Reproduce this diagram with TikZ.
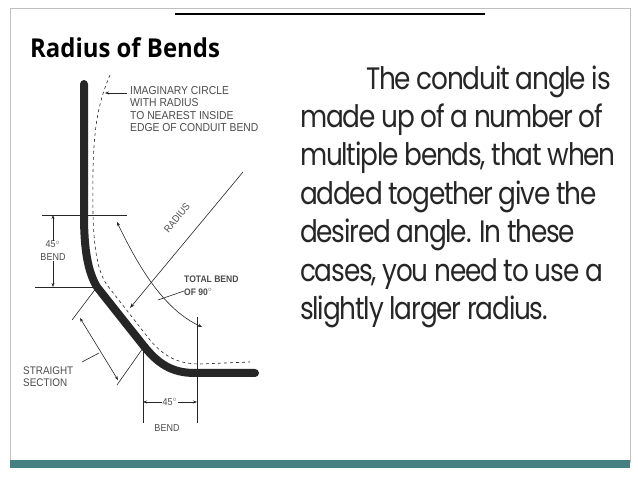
\documentclass[tikz,border=0pt]{standalone}
\usepackage{fontspec}
\setmainfont{Poppins}[FakeStretch=0.85]
\newfontfamily\diafont{Liberation Sans}[FakeStretch=0.9]
\newfontfamily\titlefont{Open Sans}[FakeStretch=0.92]
\usetikzlibrary{arrows.meta}
\begin{document}
\begin{tikzpicture}[x=1pt,y=-1pt,
  conduit/.style={line width=8pt,line cap=round,black!85},
  thin/.style={line width=0.6pt,black!85},
  dim/.style={thin,{Stealth[length=4pt,width=3pt]}-{Stealth[length=4pt,width=3pt]}},
  lbl/.style={font=\diafont\fontsize{11}{12}\selectfont,text=black!70,inner sep=0pt,align=left},
  body/.style={font=\fontsize{31}{33}\selectfont\addfontfeatures{LetterSpace=-4},anchor=base west,inner sep=0pt,text=black!85}]
\useasboundingbox (0,0) rectangle (638,478);
\fill[white] (0,0) rectangle (638,478);
\draw[black!25,line width=0.8pt] (10,8) rectangle (630,462);
\fill[teal!45!gray] (10,460) rectangle (630,468);
\draw[line width=2pt] (175,14) -- (485,14);
\node[font=\titlefont\bfseries\fontsize{26}{28}\selectfont,anchor=base west,inner sep=0pt] (title) at (30,58) {Radius of Bends};
% body text
\node[body] (t1) at (366,90) {The conduit angle is};
\node[body] (t2) at (300,128) {made up of a number of};
\node[body] (t3) at (300,166) {multiple bends, that when};
\node[body] (t4) at (300,205) {added together give the};
\node[body] (t5) at (300,243) {desired angle. In these};
\node[body] (t6) at (300,282) {cases, you need to use a};
\node[body] (t7) at (300,320) {slightly larger radius.};
% conduit
\draw[conduit] (84,84) -- (84,215) .. controls (84,250) and (88,272) .. (97,287) -- (143,345) .. controls (158,364) and (172,373) .. (195,373) -- (255,373);
% dashed imaginary circle
\draw[thin,dashed] (110,75) .. controls (95,110) and (92,140) .. (93,215) .. controls (94,250) and (98,272) .. (107,285) -- (150,340) .. controls (165,358) and (180,364) .. (200,364) -- (250,362);
% extension lines
\coordinate (h1a) at (42,215); \coordinate (h1b) at (127,215);
\coordinate (h2a) at (35,287); \coordinate (h2b) at (97,287);
\draw[thin] (h1a) -- (h1b); \draw[thin] (h2a) -- (h2b);
\coordinate (d1a) at (53,215); \coordinate (d1b) at (53,287);
\node[lbl,align=center,fill=white,font=\diafont\fontsize{10}{13}\selectfont] (bend1) at (53,251) {45$^\circ$\\BEND};
\draw[thin,-{Stealth[length=4pt,width=3pt]}] (bend1.north) -- (d1a);
\draw[thin,-{Stealth[length=4pt,width=3pt]}] (bend1.south) -- (d1b);
% radius
\coordinate (r1) at (243,172); \coordinate (r2) at (130,308);
\draw[thin,-{Stealth[length=5pt,width=3.5pt]}] (r1) -- (r2);
\node[lbl,rotate=50,font=\diafont\fontsize{10}{12}\selectfont] (rad) at (177,218) {RADIUS};
% total bend arc
\coordinate (a1) at (117,222); \coordinate (a2) at (202,327);
\draw[dim] (a1) .. controls (140,270) and (165,310) .. (a2);
\node[lbl,font=\diafont\bfseries\fontsize{9.5}{13}\selectfont,anchor=west] (tot) at (184,286) {TOTAL BEND\\OF 90$^\circ$};
\coordinate (tl) at (158,300);
\draw[thin] (tot.west) ++(0,5) -- (tl);
% bottom 45 bend
\coordinate (v1a) at (143,348); \coordinate (v1b) at (143,423);
\coordinate (v2a) at (197,317); \coordinate (v2b) at (197,423);
\draw[thin] (v1a) -- (v1b); \draw[thin] (v2a) -- (v2b);
\node[lbl,fill=white,font=\diafont\fontsize{10}{12}\selectfont] (b45) at (170,402) {45$^\circ$};
\draw[thin,-{Stealth[length=4pt,width=3pt]}] (b45.west) -- (143,402);
\draw[thin,-{Stealth[length=4pt,width=3pt]}] (b45.east) -- (197,402);
\node[lbl,font=\diafont\fontsize{10}{12}\selectfont] (bend2) at (167,428) {BEND};
% straight section
\coordinate (s1a) at (97,287); \coordinate (s1b) at (72,320);
\coordinate (s2a) at (143,348); \coordinate (s2b) at (117,385);
\draw[thin] (s1a) -- (s1b); \draw[thin] (s2a) -- (s2b);
\coordinate (sd1) at (80,318); \coordinate (sd2) at (118,380);
\draw[dim] (sd1) -- (sd2);
\node[lbl,anchor=west] (straight) at (23,377) {STRAIGHT\\SECTION};
\draw[thin] (82,362) -- (99,353);
% imaginary circle label
\node[lbl,anchor=north west,font=\diafont\fontsize{11.5}{12.5}\selectfont] (imag) at (130,86) {IMAGINARY CIRCLE\\WITH RADIUS\\TO NEAREST INSIDE\\EDGE OF CONDUIT BEND};
\coordinate (ip) at (105,93);
\draw[thin,-{Stealth[length=4pt,width=3pt]}] (127,93) -- (ip);
\end{tikzpicture}
\end{document}
